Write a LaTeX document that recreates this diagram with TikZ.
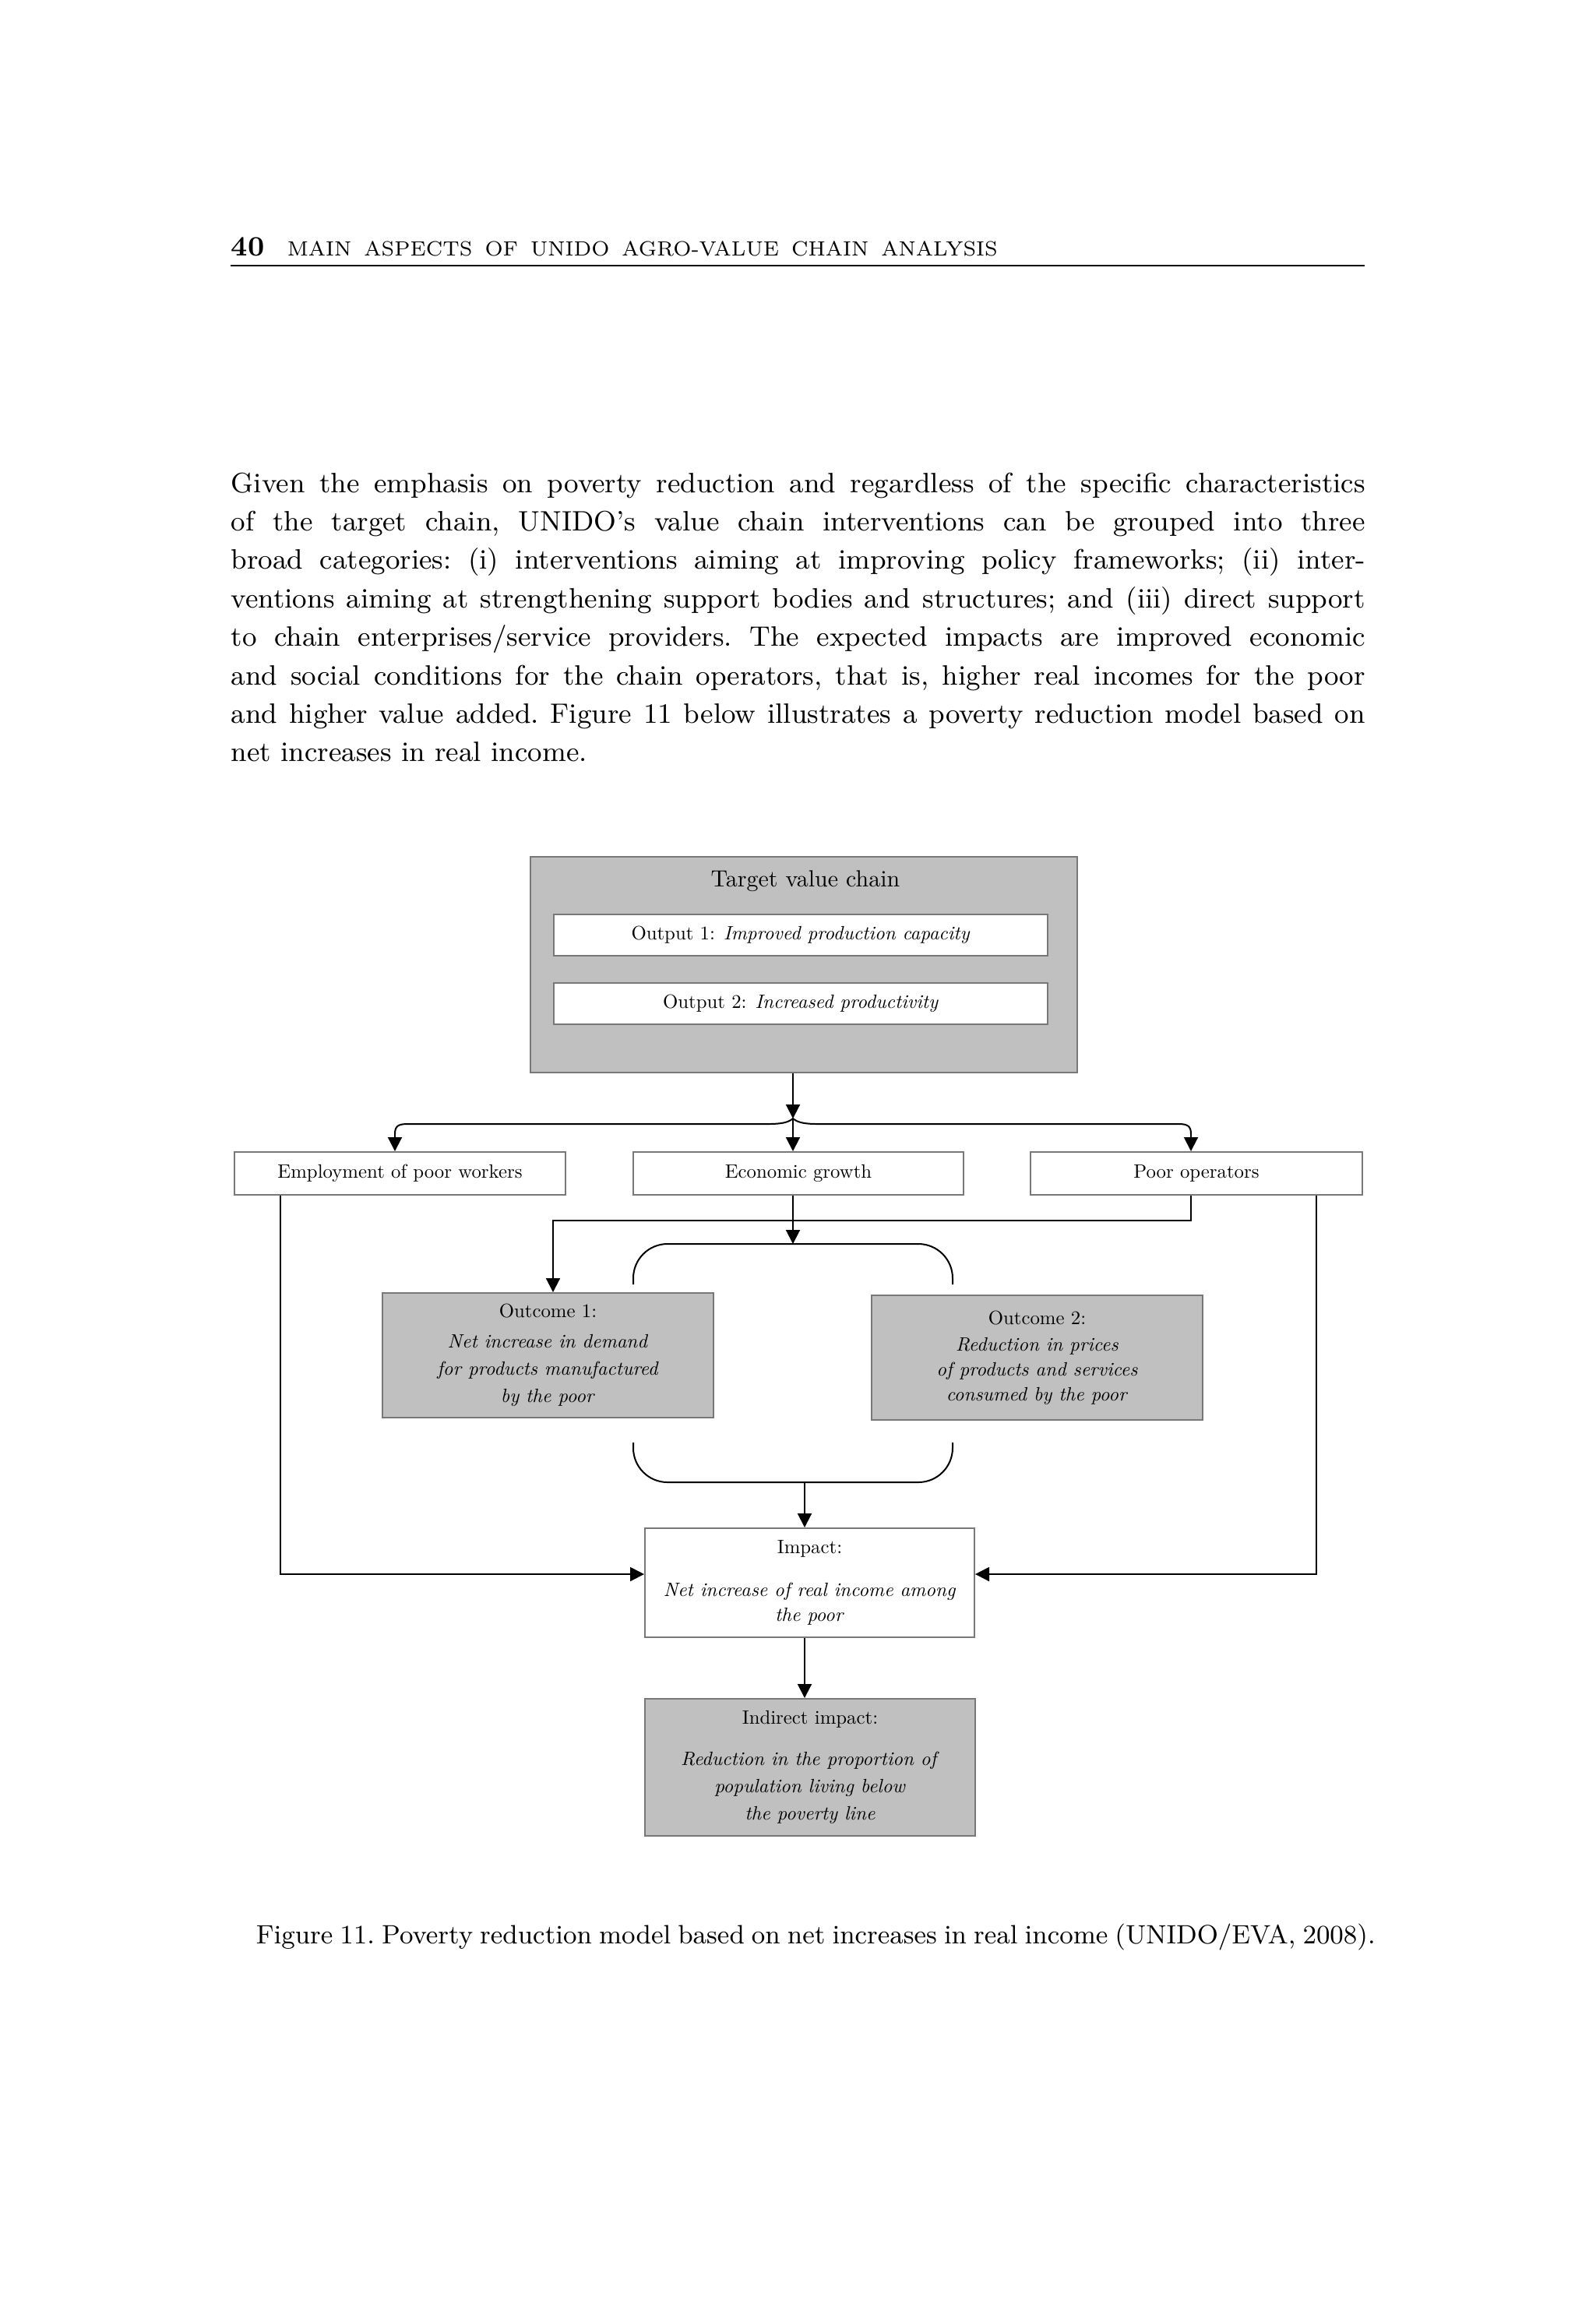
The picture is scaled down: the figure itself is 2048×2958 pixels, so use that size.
\documentclass[tikz,border=0pt]{standalone}
\usepackage{fontspec}
\newfontfamily\diagfam{lmroman10}[Extension=.otf, UprightFont=*-regular, ItalicFont=*-italic, BoldFont=*-bold, BoldItalicFont=*-bolditalic]
\usetikzlibrary{arrows.meta}
\definecolor{boxgray}{RGB}{192,192,192}
\definecolor{edgegray}{RGB}{120,120,120}
\newcommand\bodyfont{\fontsize{9}{10}\selectfont\frenchspacing}
\newcommand\captfont{\fontsize{8.5}{10}\selectfont\frenchspacing}
\newcommand\dfont{\diagfam\fontsize{6.2}{8.75}\selectfont}
\newcommand\dfontb{\diagfam\fontsize{6.2}{8}\selectfont}
\begin{document}
\begin{tikzpicture}[x=0.25pt,y=-0.25pt,
  conn/.style={line width=0.5pt, draw=black},
  arr/.style={conn,-{Triangle[length=4.5pt,width=4.5pt]}},
  graybox/.style={draw=edgegray, line width=0.5pt, fill=boxgray, inner sep=0pt, align=center, font=\dfont},
  whitebox/.style={draw=edgegray, line width=0.5pt, fill=white, inner sep=0pt, align=center, font=\dfont},
  bodyline/.style={anchor=base west, inner sep=0pt, font=\bodyfont},
]
\useasboundingbox (0,0) rectangle (2048,2958);

% running head
\node[anchor=base west, inner sep=0pt, font=\fontsize{9}{10}\selectfont\bfseries] (pg) at (296,328) {40};
\node[anchor=base west, inner sep=0pt, font=\fontsize{6.6}{8}\selectfont\addfontfeatures{LetterSpace=10}] (hd) at (368,328) {\makebox[228pt][s]{MAIN ASPECTS OF UNIDO AGRO-VALUE CHAIN ANALYSIS}};
\draw[line width=0.6pt] (296,341) -- (1752,341);

% paragraph
\node[bodyline] (p1) at (296,632) {\makebox[364pt][s]{Given the emphasis on poverty reduction and regardless of the specific characteristics}};
\node[bodyline] (p2) at (296,681.4) {\makebox[364pt][s]{of the target chain, UNIDO’s value chain interventions can be grouped into three}};
\node[bodyline] (p3) at (296,730.8) {\makebox[364pt][s]{broad categories: (i) interventions aiming at improving policy frameworks; (ii) inter-}};
\node[bodyline] (p4) at (296,780.2) {\makebox[364pt][s]{ventions aiming at strengthening support bodies and structures; and (iii) direct support}};
\node[bodyline] (p5) at (296,829.6) {\makebox[364pt][s]{to chain enterprises/service providers. The expected impacts are improved economic}};
\node[bodyline] (p6) at (296,879) {\makebox[364pt][s]{and social conditions for the chain operators, that is, higher real incomes for the poor}};
\node[bodyline] (p7) at (296,928.4) {\makebox[364pt][s]{and higher value added. Figure 11 below illustrates a poverty reduction model based on}};
\node[bodyline] (p8) at (296,977.8) {net increases in real income.};

% target value chain
\node[graybox, minimum width=175.5pt, minimum height=69.25pt] (tvc) at (1032,1238.5) {};
\node[font=\diagfam\fontsize{7.5}{9}\selectfont, inner sep=0pt] (tvct) at (1034,1131) {Target value chain};
\node[whitebox, minimum width=158.5pt, minimum height=13.25pt] (o1) at (1028,1200.5) {Output 1: \textit{Improved production capacity}};
\node[whitebox, minimum width=158.5pt, minimum height=13.25pt] (o2) at (1028,1288) {Output 2: \textit{Increased productivity}};

% three boxes
\node[whitebox, minimum width=106.25pt, minimum height=13.75pt] (emp) at (513.5,1506.5) {Employment of poor workers};
\node[whitebox, minimum width=106pt, minimum height=13.75pt] (eco) at (1025,1506.5) {Economic growth};
\node[whitebox, minimum width=106.5pt, minimum height=13.75pt] (poor) at (1536,1506.5) {Poor operators};

% outcomes
\node[graybox, minimum width=106.25pt, minimum height=40pt] (oc1) at (703.5,1740) {Outcome 1:\\[1pt] \textit{Net increase in demand}\\ \textit{for products manufactured}\\ \textit{by the poor}};
\node[graybox, font=\dfontb, minimum width=106.25pt, minimum height=40pt] (oc2) at (1331.5,1743) {Outcome 2:\\[0.5pt] \textit{Reduction in prices}\\ \textit{of products and services}\\ \textit{consumed by the poor}};

% impacts
\node[whitebox, font=\dfontb, minimum width=105.75pt, minimum height=35pt] (imp) at (1039.5,2032) {Impact:\\[5.75pt] \textit{Net increase of real income among}\\ \textit{the poor}};
\node[graybox, minimum width=106pt, minimum height=44pt] (ind) at (1040,2269) {Indirect impact:\\[4.5pt] \textit{Reduction in the proportion of}\\ \textit{population living below}\\ \textit{the poverty line}};

% connectors
\coordinate (J) at (1018,1436);
\coordinate (bl) at (507,1456);
\coordinate (br) at (1529,1456);
\draw[arr] (J |- tvc.south) -- (J);
\draw[conn] (bl) .. controls (507,1446) and (511,1443) .. (523,1443) -- (986,1443) .. controls (1004,1443) and (1012,1441) .. (J) .. controls (1024,1441) and (1032,1443) .. (1050,1443) -- (1513,1443) .. controls (1525,1443) and (1529,1446) .. (br);
\draw[arr] (bl) -- (bl |- emp.north);
\draw[arr] (J) -- (J |- eco.north);
\draw[arr] (br) -- (br |- poor.north);

\coordinate (tbt) at (1018,1597);
\draw[conn, rounded corners=11pt] (813,1649) -- (813,1597) -- (1223,1597) -- (1223,1649);
\draw[arr] (J |- eco.south) -- (tbt);
\coordinate (k) at (710,1567);
\draw[arr] (br |- poor.south) -- (br |- k) -- (k) -- (k |- oc1.north);

\draw[conn, rounded corners=11pt] (813,1852) -- (813,1903) -- (1223,1903) -- (1223,1852);
\coordinate (bbm) at (1033,1903);
\draw[arr] (bbm) -- (bbm |- imp.north);
\draw[arr] (bbm |- imp.south) -- (bbm |- ind.north);

\coordinate (eL) at (360,2021);
\coordinate (pR) at (1690,2021);
\draw[arr] (eL |- emp.south) -- (eL) -- (eL -| imp.west);
\draw[arr] (pR |- poor.south) -- (pR) -- (pR -| imp.east);

% caption
\node[anchor=base west, inner sep=0pt, font=\captfont] (cap) at (328,2495) {\makebox[359.25pt][s]{Figure 11. Poverty reduction model based on net increases in real income (UNIDO/EVA, 2008).}};
\end{tikzpicture}
\end{document}
